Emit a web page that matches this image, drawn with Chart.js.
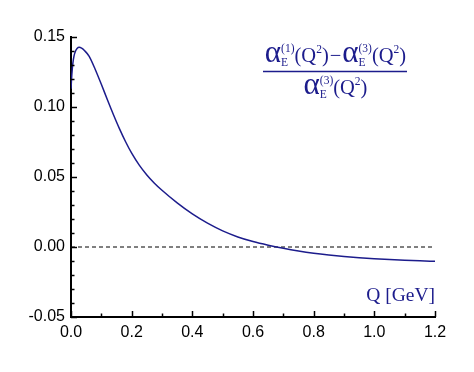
<!DOCTYPE html>
<html>
<head>
<meta charset="utf-8">
<script src="https://cdn.jsdelivr.net/npm/chart.js@4/dist/chart.umd.min.js"></script>
<style>
  html, body { margin: 0; padding: 0; background: #ffffff; }
  #wrap { position: relative; width: 474px; height: 372px; }
</style>
</head>
<body>
<div id="wrap"><canvas id="c" width="474" height="372"></canvas></div>
<script>
// ---- data ----
const qValues = [0, 0.003, 0.006, 0.01, 0.015, 0.02, 0.027, 0.035, 0.045, 0.06, 0.08, 0.10, 0.12, 0.14,
                 0.16, 0.18, 0.20, 0.225, 0.25, 0.275, 0.30, 0.35, 0.40, 0.45, 0.50, 0.55, 0.60, 0.65,
                 0.70, 0.75, 0.80, 0.85, 0.90, 0.95, 1.00, 1.05, 1.10, 1.15, 1.20];
const ratioValues = [0.113, 0.124, 0.131, 0.1365, 0.1400, 0.1418, 0.1426, 0.1420, 0.1402, 0.1362, 0.1268, 0.1162, 0.1052, 0.0945,
                     0.0844, 0.0752, 0.0670, 0.0585, 0.0515, 0.0456, 0.0405, 0.0315, 0.0236, 0.0170, 0.0115, 0.0072, 0.0039, 0.0013,
                     -0.0009, -0.0028, -0.0044, -0.0057, -0.0068, -0.0077, -0.0084, -0.0090, -0.0095, -0.0099, -0.0102];
const zeroLineX = [0, 1.2];
const zeroLineY = [0, 0];
const yMajorTicks = [-0.05, 0.00, 0.05, 0.10, 0.15];
const xMajorTicks = [0.0, 0.2, 0.4, 0.6, 0.8, 1.0, 1.2];
const xAxisTitle = 'Q [GeV]';

const NAVY = '#1c1c8c';
const isMajor = (v, list) => list.some(m => Math.abs(m - v) < 1e-9);

const curve = qValues.map((x, i) => ({ x, y: ratioValues[i] }));
const zero = zeroLineX.map((x, i) => ({ x, y: zeroLineY[i] }));

// inward major/minor tick marks, drawn at the scales' own tick positions
const innerTicks = {
  id: 'innerTicks',
  afterDraw(chart) {
    const ctx = chart.ctx, a = chart.chartArea;
    const xs = chart.scales.x, ys = chart.scales.y;
    ctx.save();
    ctx.strokeStyle = '#000';
    ctx.lineWidth = 1.5;
    ys.ticks.forEach(t => {
      const py = Math.round(ys.getPixelForValue(t.value)) + 0.5;
      const len = isMajor(t.value, yMajorTicks) ? 6 : 3.5;
      ctx.beginPath(); ctx.moveTo(a.left, py); ctx.lineTo(a.left + len, py); ctx.stroke();
    });
    xs.ticks.forEach(t => {
      const px = Math.round(xs.getPixelForValue(t.value)) + 0.5;
      const len = isMajor(t.value, xMajorTicks) ? 6 : 3.5;
      ctx.beginPath(); ctx.moveTo(px, a.bottom); ctx.lineTo(px, a.bottom - len); ctx.stroke();
    });
    ctx.restore();
  }
};

// axis title and formula
function drawRuns(ctx, runs, cx, baseline) {
  const fam = '"Liberation Serif", "Times New Roman", serif';
  let total = 0;
  runs.forEach(r => {
    ctx.font = r.s + 'px ' + fam;
    r.w = r.stack ? Math.max(ctx.measureText(r.sub).width, ctx.measureText(r.sup).width)
                  : ctx.measureText(r.t).width;
    r.w += (r.gap || 0) * 2;
    total += r.w;
  });
  let x = cx - total / 2;
  runs.forEach(r => {
    ctx.font = r.s + 'px ' + fam;
    const gx = x + (r.gap || 0);
    if (r.stack) {
      ctx.fillText(r.sub, gx, baseline + r.subDy);
      ctx.fillText(r.sup, gx, baseline + r.supDy);
    } else {
      ctx.fillText(r.t, gx, baseline + (r.dy || 0));
    }
    x += r.w;
  });
  return total;
}

const labelsPlugin = {
  id: 'labelsPlugin',
  afterDraw(chart) {
    const ctx = chart.ctx, a = chart.chartArea;
    ctx.save();
    ctx.fillStyle = NAVY;
    ctx.textBaseline = 'alphabetic';
    ctx.textAlign = 'right';
    ctx.font = '19.5px "Liberation Serif", "Times New Roman", serif';
    ctx.fillText(xAxisTitle, a.right, 301);
    ctx.textAlign = 'left';
    const alphaPart = (n) => [
      { t: 'α', s: 31 },
      { stack: true, sub: 'E', sup: '(' + n + ')', s: 11.5, subDy: 3.5, supDy: -10 },
      { t: '(Q', s: 20.5 },
      { t: '2', s: 11.5, dy: -9 },
      { t: ')', s: 20.5 }
    ];
    const num = [...alphaPart(1), { t: '−', s: 20.5, gap: 1 }, ...alphaPart(3)];
    const den = alphaPart(3);
    const cx = 335.5;
    drawRuns(ctx, num, cx, 62);
    drawRuns(ctx, den, cx, 94);
    ctx.strokeStyle = NAVY;
    ctx.lineWidth = 1.5;
    ctx.beginPath(); ctx.moveTo(263, 71.5); ctx.lineTo(407, 71.5); ctx.stroke();
    ctx.restore();
  }
};

new Chart(document.getElementById('c'), {
  type: 'line',
  data: {
    datasets: [
      {
        data: curve,
        borderColor: NAVY,
        borderWidth: 1.5,
        pointRadius: 0,
        fill: false,
        cubicInterpolationMode: 'monotone'
      },
      {
        data: zero,
        borderColor: '#000',
        borderWidth: 1,
        borderDash: [4, 3],
        pointRadius: 0,
        fill: false
      }
    ]
  },
  options: {
    responsive: false,
    animation: false,
    events: [],
    layout: { padding: { top: 37, right: 39, left: 0, bottom: 0 } },
    plugins: { legend: { display: false }, tooltip: { enabled: false } },
    scales: {
      x: {
        type: 'linear',
        min: 0, max: 1.2,
        grid: { display: false, drawTicks: false },
        border: { display: true, color: '#000', width: 2 },
        ticks: {
          stepSize: 0.1,
          autoSkip: false,
          maxRotation: 0,
          padding: 6,
          color: '#000',
          font: { family: '"Liberation Sans", Arial, sans-serif', size: 16 },
          callback: v => isMajor(v, xMajorTicks) ? Number(v).toFixed(1) : ''
        },
        afterFit: s => { s.height = 55; }
      },
      y: {
        type: 'linear',
        min: -0.05, max: 0.15,
        grid: { display: false, drawTicks: false },
        border: { display: true, color: '#000', width: 2 },
        ticks: {
          stepSize: 0.01,
          autoSkip: false,
          padding: 6,
          color: '#000',
          font: { family: '"Liberation Sans", Arial, sans-serif', size: 16 },
          callback: v => isMajor(v, yMajorTicks) ? Number(v).toFixed(2) : ''
        },
        afterFit: s => { s.width = 71; }
      }
    }
  },
  plugins: [innerTicks, labelsPlugin]
});
</script>
</body>
</html>
